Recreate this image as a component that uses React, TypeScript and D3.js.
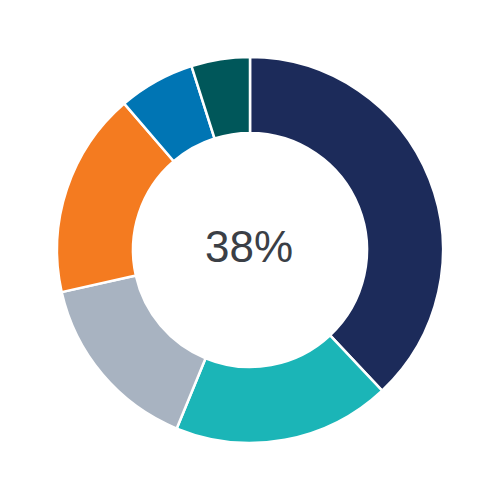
import * as d3 from 'd3';
import { useEffect, useRef } from 'react';

const categories = ['A', 'B', 'C', 'D', 'E', 'F'];
const values = [38, 18.2, 15.3, 17.2, 6.4, 4.9];
const colors = ['#1c2b5a', '#1bb5b7', '#a8b3c1', '#f47b20', '#0075b4', '#00575a'];
const centerLabel = '38%';

export default function App() {
  const ref = useRef<SVGSVGElement>(null);

  useEffect(() => {
    const width = 500;
    const height = 500;
    const outer = 193;
    const inner = 117;

    const svg = d3.select(ref.current);
    svg.selectAll('*').remove();

    const g = svg
      .append('g')
      .attr('transform', `translate(${width / 2},${height / 2})`);

    const data = categories.map((c, i) => ({ name: c, value: values[i], color: colors[i] }));

    const pie = d3
      .pie<{ name: string; value: number; color: string }>()
      .value((d) => d.value)
      .sort(null);

    const arc = d3
      .arc<d3.PieArcDatum<{ name: string; value: number; color: string }>>()
      .innerRadius(inner)
      .outerRadius(outer);

    g.selectAll('path')
      .data(pie(data))
      .enter()
      .append('path')
      .attr('d', arc)
      .style('fill', (d) => d.data.color)
      .style('stroke', '#ffffff')
      .style('stroke-width', '2.5px');

    g.append('text')
      .attr('x', -1)
      .attr('y', -3)
      .attr('dy', '0.35em')
      .style('text-anchor', 'middle')
      .style('font-family', '"Liberation Sans", Arial, sans-serif')
      .style('font-size', '44px')
      .style('fill', '#3b3f46')
      .text(centerLabel);
  }, []);

  return (
    <svg
      ref={ref}
      width={500}
      height={500}
      style={{ position: 'absolute', left: 0, top: 0, background: '#ffffff' }}
    />
  );
}
